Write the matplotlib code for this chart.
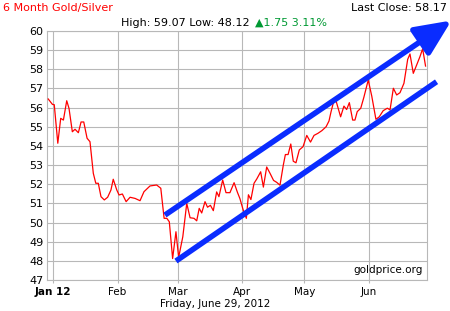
import matplotlib
matplotlib.use('Agg')
import matplotlib.pyplot as plt
import matplotlib.dates as mdates

# days counted from 2012-01-01, gold/silver ratio
days = [-2.4, -0.4, 0.5, 2.2, 3.6, 4.9, 6.5, 7.6, 9.2, 10.5, 12.1, 13.4, 14.7,
        16.3, 17.7, 19.3, 20.5, 21.7, 23.0, 24.6, 26.2, 27.8, 28.9, 30.6, 31.7,
        33.3, 35.1, 37.0, 39.4, 41.8, 43.7, 46.6, 49.8, 51.8, 53.4, 54.7, 55.9,
        57.5, 59.1, 60.4, 62.4, 64.3, 65.9, 67.8, 69.1, 70.3, 71.5, 73.1, 74.3,
        75.7, 77.1, 78.7, 79.8, 81.6, 83.2, 85.1, 87.1, 88.7, 89.9, 91.5, 93.0,
        94.0, 95.2, 96.7, 98.0, 99.9, 101.2, 102.8, 104.5, 106.1, 107.6, 109.2,
        110.8, 111.8, 113.1, 114.4, 115.6, 116.9, 118.5, 120.3, 122.1, 123.9,
        125.6, 127.5, 129.4, 131.4, 132.8, 133.8, 134.9, 136.2, 138.4, 140.0,
        141.3, 142.6, 144.2, 145.3, 146.4, 148.1, 149.6, 151.7, 153.4, 155.4,
        157.0, 158.9, 160.9, 162.2, 163.8, 165.4, 167.0, 168.9, 170.7, 171.8,
        173.4, 175.0, 176.6, 177.9, 179.3]
ratio = [56.45, 56.17, 56.15, 54.14, 55.44, 55.35, 56.36, 55.96, 54.74, 54.87,
         54.69, 55.25, 55.25, 54.40, 54.22, 52.57, 52.05, 52.05, 51.35, 51.18,
         51.32, 51.70, 52.26, 51.70, 51.44, 51.49, 51.09, 51.32, 51.26, 51.14,
         51.61, 51.91, 51.96, 51.79, 50.22, 50.22, 50.04, 48.12, 49.52, 48.18,
         49.26, 51.00, 50.25, 50.22, 50.09, 50.74, 50.50, 51.09, 50.80, 50.90,
         50.62, 51.60, 51.35, 52.22, 51.56, 51.56, 52.08, 51.58, 51.25, 50.65,
         50.22, 51.45, 51.20, 52.05, 52.27, 52.65, 51.85, 52.90, 52.55, 52.20,
         52.10, 51.95, 53.00, 53.55, 53.55, 54.10, 53.20, 53.12, 53.79, 53.96,
         54.55, 54.20, 54.55, 54.66, 54.80, 55.00, 55.30, 55.79, 56.25, 56.35,
         55.52, 56.08, 55.90, 56.26, 55.35, 55.35, 55.79, 55.97, 56.54, 57.44,
         56.60, 55.39, 55.52, 55.84, 55.97, 55.88, 57.01, 56.66, 56.78, 57.27,
         58.52, 58.80, 57.79, 58.22, 58.66, 59.07, 58.17]

month_starts = ['2012-01-01', '2012-02-01', '2012-03-01', '2012-04-01',
                '2012-05-01', '2012-06-01']
month_labels = ['Jan 12', 'Feb', 'Mar', 'Apr', 'May', 'Jun']
y_ticks = list(range(47, 61))

# trend channel drawn on top
upper_arrow_days = [53.8, 191.8]
upper_arrow_vals = [50.39, 60.55]
lower_line_days = [59.1, 184.6]
lower_line_vals = [47.99, 57.35]

base = mdates.datestr2num('2012-01-01')
xs = [base + d for d in days]

W, H = 450, 311
fig = plt.figure(figsize=(W / 100, H / 100), dpi=100)
ax = fig.add_axes([47 / W, (H - 280) / H, 380 / W, 249 / H])

grid_c = '#b8b8b8'
ax.plot(xs, ratio, color='#ff0000', lw=0.9, zorder=3)

ax.set_xlim(base - 3, base + 180)
ax.set_ylim(47, 60)
ax.set_yticks(y_ticks)
ax.set_xticks([mdates.datestr2num(m) for m in month_starts])
ax.set_xticklabels(month_labels)
ax.grid(True, color=grid_c, lw=0.8)
ax.set_axisbelow(True)
for s in ax.spines.values():
    s.set_color(grid_c)
    s.set_linewidth(0.8)
ax.tick_params(axis='y', length=0, pad=2.5, labelsize=8, labelcolor='#000000')
ax.tick_params(axis='x', length=2, color=grid_c, pad=3, labelsize=7.5)
ax.get_xticklabels()[0].set_fontweight('bold')

blue = '#0a2cff'
ax.annotate('', xy=(base + upper_arrow_days[1], upper_arrow_vals[1]),
            xytext=(base + upper_arrow_days[0], upper_arrow_vals[0]),
            arrowprops=dict(arrowstyle='-|>,head_length=1.1,head_width=0.5',
                            mutation_scale=20, lw=4, color=blue,
                            shrinkA=0, shrinkB=0, capstyle='butt'),
            annotation_clip=False, zorder=5)
ax.plot([base + d for d in lower_line_days], lower_line_vals, color=blue,
        lw=4, solid_capstyle='butt', clip_on=False, zorder=5)

ax.text(0.99, 0.02, 'goldprice.org', transform=ax.transAxes, ha='right',
        va='bottom', fontsize=7.5)

fig.text(3 / W, 1 - 8 / H, '6 Month Gold/Silver', color='#ff0000',
         fontsize=8, ha='left', va='center')
fig.text(447 / W, 1 - 8 / H, 'Last Close: 58.17', color='#000000',
         fontsize=8, ha='right', va='center')
fig.text(250 / W, 1 - 23 / H, 'High: 59.07 Low: 48.12', color='#000000',
         fontsize=8, ha='right', va='center')
fig.text(255 / W, 1 - 23 / H, '\u25b21.75 3.11%', color='#009933',
         fontsize=8, ha='left', va='center')
fig.text(215 / W, 1 - 304 / H, 'Friday, June 29, 2012', color='#000000',
         fontsize=7.5, ha='center', va='center')

fig.savefig('out.png', dpi=100)
